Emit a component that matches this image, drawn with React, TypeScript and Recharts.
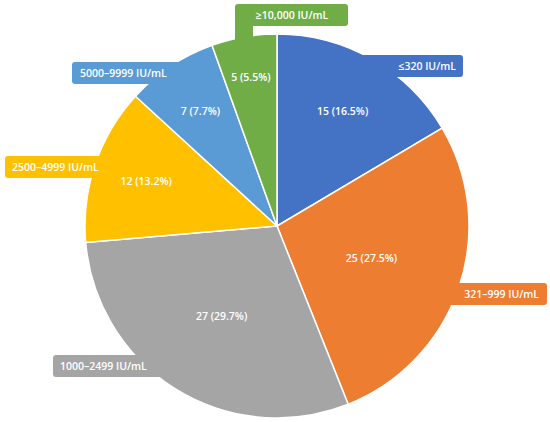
import { PieChart, Pie, Cell } from "recharts";

const CATEGORIES = ["≤320 IU/mL", "321–999 IU/mL", "1000–2499 IU/mL", "2500–4999 IU/mL", "5000–9999 IU/mL", "≥10,000 IU/mL"];
const COUNTS = [15, 25, 27, 12, 7, 5];
const PERCENTS = ["16.5", "27.5", "29.7", "13.2", "7.7", "5.5"];
const COLORS = ["#4472C4", "#ED7D31", "#A5A5A5", "#FFC000", "#5B9BD5", "#70AD47"];

// label layout: inner label distance as share of radius, callout boxes in chart px
const INNER_R = [0.69, 0.52, 0.55, 0.72, 0.72, 0.79];
const CALLOUTS = [
  { x: 360, y: 55, w: 103, anchor: "end", tx: 456 },
  { x: 440, y: 283, w: 107, anchor: "end", tx: 539 },
  { x: 53, y: 355, w: 117, anchor: "start", tx: 60 },
  { x: 5, y: 156, w: 105, anchor: "start", tx: 12 },
  { x: 72, y: 62, w: 118, anchor: "start", tx: 80 },
  { x: 235, y: 4, w: 113, anchor: "middle", tx: 292, tail: true },
];

const data = CATEGORIES.map((name, i) => ({ name, value: COUNTS[i], pct: PERCENTS[i] }));

const FONT = "'Open Sans', sans-serif";
const RAD = Math.PI / 180;

function renderLabel(props: any) {
  const { cx, cy, midAngle, outerRadius, index } = props;
  const r = outerRadius * INNER_R[index];
  const x = cx + r * Math.cos(-midAngle * RAD);
  const y = cy + r * Math.sin(-midAngle * RAD);
  const c = CALLOUTS[index];
  return (
    <g key={`lbl-${index}`}>
      {c.tail && <rect x={c.x} y={c.y + 10} width={18} height={32} fill={COLORS[index]} />}
      <rect x={c.x} y={c.y} width={c.w} height={22} rx={3} fill={COLORS[index]} />
      <text x={c.tx} y={c.y + 15} textAnchor={c.anchor} fill="#fff" fontSize={10.5} fontWeight={600} fontFamily={FONT}>
        {data[index].name}
      </text>
      <text x={x} y={y} textAnchor="middle" dominantBaseline="central" fill="#fff" fontSize={10.5} fontWeight={600} fontFamily={FONT}>
        {`${data[index].value} (${data[index].pct}%)`}
      </text>
    </g>
  );
}

export default function App() {
  return (
    <div style={{ width: 550, height: 422, background: "#fff" }}>
      <style>{"body{margin:0}"}</style>
      <PieChart width={550} height={422} margin={{ top: 0, right: 0, bottom: 0, left: 0 }}>
        <Pie
          data={data}
          dataKey="value"
          cx={277}
          cy={226}
          outerRadius={192}
          startAngle={90}
          endAngle={-270}
          stroke="#fff"
          strokeWidth={1.5}
          label={renderLabel}
          labelLine={false}
          isAnimationActive={false}
        >
          {data.map((_, i) => <Cell key={i} fill={COLORS[i]} />)}
        </Pie>
      </PieChart>
    </div>
  );
}
